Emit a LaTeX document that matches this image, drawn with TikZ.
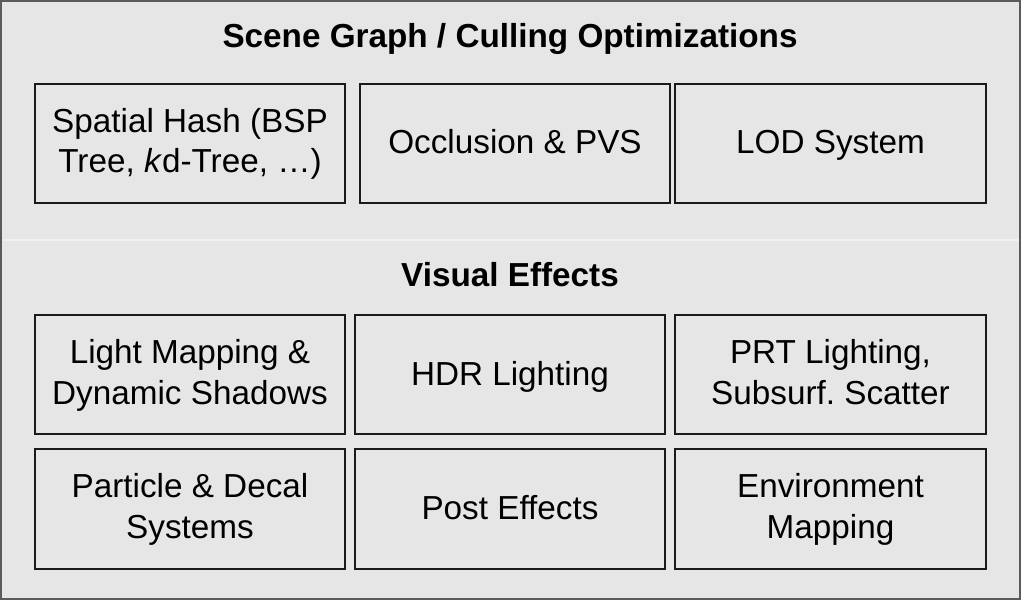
\documentclass[tikz,border=0pt]{standalone}
\usepackage{fontspec}
\setmainfont{Liberation Sans}
\frenchspacing
\definecolor{bg}{HTML}{E6E6E6}
\definecolor{frame}{HTML}{5A5A5A}
\definecolor{sep}{HTML}{F0F0F0}
\definecolor{edge}{HTML}{1A1A1A}
\begin{document}
\begin{tikzpicture}[x=1bp,y=-1bp,
  panel/.style={draw=edge, line width=1.3bp, fill=bg, inner sep=0pt,
    minimum width=310bp, minimum height=119bp},
  label/.style={inner sep=0pt, align=center, anchor=base,
    font=\fontsize{33.4}{41}\selectfont},
  heading/.style={anchor=base, font=\fontsize{33.4}{40}\selectfont\bfseries}]
\useasboundingbox (0,0) rectangle (1021,600);
\fill[bg] (0,0) rectangle (1021,600);
\draw[frame, line width=2bp] (1,1) rectangle (1020,599);
\draw[sep, line width=1.2bp] (2,240) -- (1019,240);
\node[heading] (t1) at (510,48) {Scene Graph / Culling Optimizations};
\node[heading] (t2) at (510,287) {Visual Effects};
% row 1
\node[panel] (a1) at (190,143.5) {};
\node[label] (la1) at ([yshift=-29.5bp]a1.center) {Spatial Hash (BSP\\Tree, \textit{k}d-Tree, …)};
\node[panel] (a2) at (515,143.5) {};
\node[label] (la2) at ([yshift=-10.5bp]a2.center) {Occlusion \& PVS};
\node[panel, minimum width=311bp] (a3) at (830.5,143.5) {};
\node[label] (la3) at ([yshift=-10.5bp]a3.center) {LOD System};
% row 2
\node[panel] (b1) at (190,374.5) {};
\node[label] (lb1) at ([yshift=-29.5bp]b1.center) {Light Mapping \&\\Dynamic Shadows};
\node[panel] (b2) at (510,374.5) {};
\node[label] (lb2) at ([yshift=-10.5bp]b2.center) {HDR Lighting};
\node[panel, minimum width=311bp] (b3) at (830.5,374.5) {};
\node[label] (lb3) at ([yshift=-29.5bp]b3.center) {PRT Lighting,\\Subsurf.\ Scatter};
% row 3
\node[panel, minimum height=120bp] (c1) at (190,509) {};
\node[label] (lc1) at ([yshift=-29.5bp]c1.center) {Particle \& Decal\\Systems};
\node[panel, minimum height=120bp] (c2) at (510,509) {};
\node[label] (lc2) at ([yshift=-10.5bp]c2.center) {Post Effects};
\node[panel, minimum width=311bp, minimum height=120bp] (c3) at (830.5,509) {};
\node[label] (lc3) at ([yshift=-29.5bp]c3.center) {Environment\\Mapping};
\end{tikzpicture}
\end{document}
